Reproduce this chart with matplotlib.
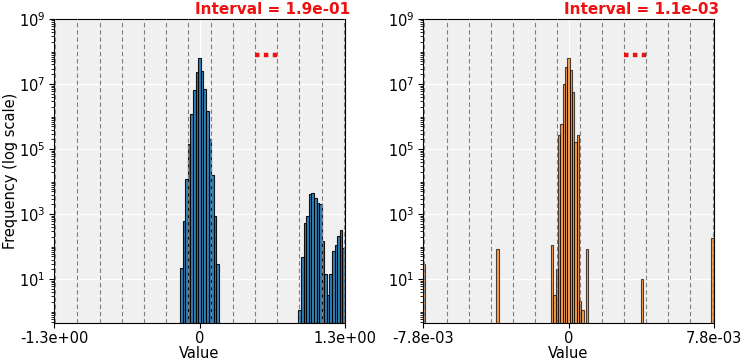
import numpy as np
import matplotlib
matplotlib.use('Agg')
import matplotlib.pyplot as plt
from matplotlib.ticker import LogLocator, NullFormatter
import matplotlib.transforms as mtransforms

plt.rcParams['font.family'] = ['DejaVu Sans']

# ---- data ----
# left panel: two groups of histogram bins (counts)
left_core_start = -0.174
left_tail_start = 0.883
left_bin_w = 0.0232
left_core_counts = [22, 620, 1.2e4, 1.4e5, 1.2e6, 6.6e6, 2.4e7, 6.2e7,
                    2.5e7, 6.9e6, 1.5e6, 2.0e5, 1.6e4, 870, 30]
left_tail_counts = [1.1, 47, 540, 850, 4100, 4400, 3200, 2200, 2100,
                    150, 14, 3.2, 14, 72, 112, 215, 320, 90]
left_interval = 0.1985
left_lim = 1.3
left_ticks = [-1.3, 0, 1.3]
left_ticklabels = ['-1.3e+00', '0', '1.3e+00']
left_title = 'Interval = 1.9e-01'

# right panel: bin centres and counts
right_bin_w = 1.3e-4
right_centers = [-0.00772, -0.0038, -0.000875, -0.00075, -0.000625,
                 -0.0005, -0.000375, -0.00025, -0.000125, 0.0,
                 0.000125, 0.00025, 0.000375, 0.0005,
                 0.000625, 0.00075, 0.001, 0.00393, 0.00771]
right_counts = [30, 83, 112, 3.2, 20,
                2.7e5, 5.8e5, 1.0e7, 3.4e7, 6.2e7,
                2.7e7, 5.8e6, 1.7e5, 2.7e5,
                2.2, 1.1, 87, 10.5, 180]
right_interval = 0.001186
right_lim = 0.0078
right_ticks = [-0.0078, 0, 0.0078]
right_ticklabels = ['-7.8e-03', '0', '7.8e-03']
right_title = 'Interval = 1.1e-03'

YLIM = (0.45, 1e9)
FS = 10.5


def style_axes(ax, lim, ticks, ticklabels, interval, title):
    """common look: grey face, white grid, dashed interval lines, log y"""
    ax.set_facecolor('#f0f0f0')
    ax.set_yscale('log')
    ax.set_ylim(*YLIM)
    ax.set_xlim(-lim, lim)
    ax.set_yticks([1e1, 1e3, 1e5, 1e7, 1e9])
    ax.yaxis.set_minor_locator(LogLocator(base=10, subs=np.arange(1, 10), numticks=50))
    ax.yaxis.set_minor_formatter(NullFormatter())
    ax.set_xticks(ticks)
    ax.set_xticklabels(ticklabels)
    ax.tick_params(labelsize=FS, pad=2.5)
    ax.set_axisbelow(True)
    ax.grid(True, which='major', color='white', linewidth=1.0)
    ax.set_xlabel('Value', fontsize=FS, labelpad=0)

    # dashed lines at the interval boundaries
    k = np.arange(0, 20)
    pos = (k + 0.5) * interval
    pos = pos[pos < lim]
    for p in np.concatenate([-pos, pos]):
        ax.axvline(p, color='#808080', linestyle=(0, (4, 2.5)), linewidth=0.8, zorder=3)

    # red dots marking the skipped range
    trans = mtransforms.blended_transform_factory(ax.transData, ax.transAxes)
    ax.plot([pos[2], pos[3]], [0.88, 0.88], transform=trans, color='#ee1111',
            linewidth=3.2, linestyle=(0, (1, 1)), solid_capstyle='butt',
            dash_capstyle='butt', zorder=4)

    ax.text(1.018, 1.006, title, transform=ax.transAxes, ha='right', va='bottom',
            color='#ee1111', fontsize=11, fontweight='bold')


fig = plt.figure(figsize=(7.45, 3.62), dpi=100)
ax1 = fig.add_axes([0.0725, 0.1077, 0.3906, 0.8398])
ax2 = fig.add_axes([0.5674, 0.1077, 0.3914, 0.8398])

# left histogram
core_x = left_core_start + left_bin_w * (np.arange(len(left_core_counts)) + 0.5)
tail_x = left_tail_start + left_bin_w * (np.arange(len(left_tail_counts)) + 0.5)
ax1.bar(core_x, left_core_counts, width=left_bin_w, color='#1f77b4', alpha=0.9,
        edgecolor='black', linewidth=0.8, zorder=2)
ax1.bar(tail_x, left_tail_counts, width=left_bin_w, color='#1f77b4', alpha=0.9,
        edgecolor='black', linewidth=0.8, zorder=2)
style_axes(ax1, left_lim, left_ticks, left_ticklabels, left_interval, left_title)
ax1.set_ylabel('Frequency (log scale)', fontsize=FS, labelpad=1)

# right histogram
ax2.bar(right_centers, right_counts, width=right_bin_w, color='#ff7f0e', alpha=0.7,
        edgecolor='black', linewidth=0.8, zorder=2)
style_axes(ax2, right_lim, right_ticks, right_ticklabels, right_interval, right_title)

fig.savefig('out.png', dpi=100, facecolor='white')
